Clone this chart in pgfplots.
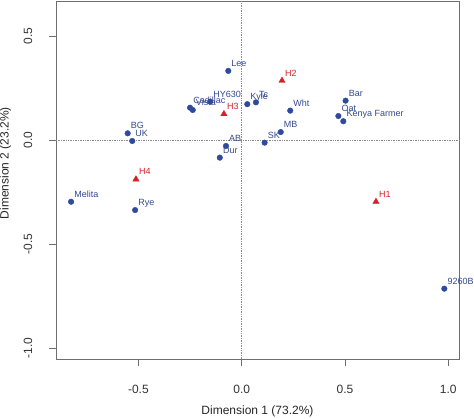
\documentclass[border=0pt]{standalone}
\usepackage{pgfplots}
\pgfplotsset{compat=1.18}
\usepackage{fontspec}
\setmainfont{Liberation Sans}
\definecolor{ptblue}{RGB}{46,74,158}
\definecolor{lblblue}{RGB}{52,72,145}
\definecolor{ptred}{RGB}{214,32,39}
\definecolor{boxgray}{RGB}{110,110,110}

\begin{document}
\begin{tikzpicture}
\begin{axis}[
  name=ax,
  scale only axis,
  width=403pt, height=358pt,
  xmin=-0.899, xmax=1.052,
  ymin=-1.053, ymax=0.668,
  axis line style={boxgray, line width=0.8pt},
  xtick={-0.5,0,0.5,1}, ytick={-1,-0.5,0,0.5},
  xtick pos=bottom, ytick pos=left,
  tick align=outside,
  major tick length=7pt,
  tick style={boxgray, line width=0.8pt},
  /pgf/number format/assume math mode=true,
  /pgf/number format/fixed,
  /pgf/number format/fixed zerofill,
  /pgf/number format/precision=1,
  ticklabel style={font=\fontsize{12}{14}\selectfont, text=black!80},
  yticklabel style={rotate=90, anchor=center, inner sep=0pt},
  xticklabel style={anchor=center, inner sep=0pt},
  xticklabel shift=23pt,
  yticklabel shift=21pt,
  xlabel={Dimension 1 (73.2\%)},
  ylabel={Dimension 2 (23.2\%)},
  xlabel style={font=\fontsize{12}{14}\selectfont, text=black!85, at={(axis description cs:0.5,-0.1466)}, anchor=center},
  ylabel style={font=\fontsize{12}{14}\selectfont, text=black!85, at={(axis description cs:-0.1253,0.547)}, anchor=center},
  clip=false,
]
% reference lines through the origin
\draw[black!45, densely dotted, line width=0.7pt] (axis cs:0,-1.053) -- (axis cs:0,0.668);
\draw[black!45, densely dotted, line width=0.7pt] (axis cs:-0.899,0) -- (axis cs:1.052,0);

% varieties / sources
\addplot[only marks, mark=*, mark size=2.8pt, color=ptblue,
  nodes near coords, point meta=explicit symbolic,
  every node near coord/.style={anchor=base west, inner sep=0pt, xshift=3pt, yshift=4.5pt,
    font=\fontsize{9}{10}\selectfont, text=lblblue}]
  table[meta=label, col sep=comma] {
x,y,label
-0.065,0.332,Lee
-0.153,0.184,HY630
-0.250,0.155,Cadillac
-0.237,0.144,Vista
0.027,0.172,Kyle
0.069,0.181,Tc
-0.552,0.032,BG
-0.530,-0.005,UK
-0.076,-0.029,AB
-0.106,-0.085,Dur
0.111,-0.013,SK
0.189,0.038,MB
0.235,0.141,Wht
0.503,0.189,Bar
0.468,0.115,Oat
0.492,0.090,Kenya Farmer
-0.826,-0.297,Melita
-0.516,-0.337,Rye
0.981,-0.715,9260B
};

% haplotypes
\addplot[only marks, mark=triangle*, mark size=3.6pt, color=ptred,
  nodes near coords, point meta=explicit symbolic,
  every node near coord/.style={anchor=base west, inner sep=0pt, xshift=3pt, yshift=4.5pt,
    font=\fontsize{9}{10}\selectfont, text=ptred}]
  table[meta=label, col sep=comma] {
x,y,label
0.650,-0.297,H1
0.195,0.285,H2
-0.086,0.125,H3
-0.512,-0.189,H4
};
\end{axis}
\pgfresetboundingbox
\path (ax.south west) ++(-56pt,-59pt) coordinate (bl);
\path (ax.north east) ++(15pt,1pt) coordinate (tr);
\path (bl) rectangle (tr);
\end{tikzpicture}
\end{document}
